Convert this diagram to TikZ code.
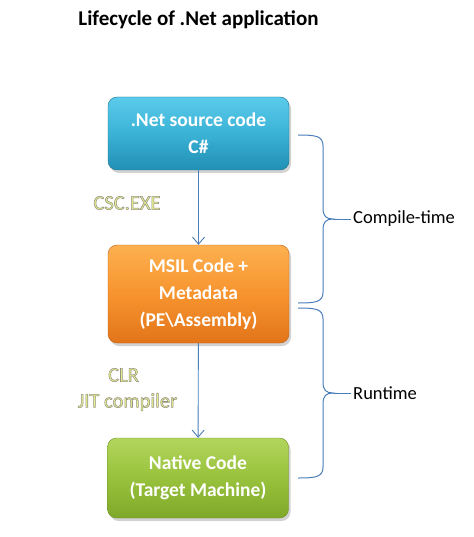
\documentclass[tikz,border=0pt]{standalone}
\usepackage{fontspec}
\setmainfont{Carlito}
\usetikzlibrary{shadows,arrows.meta}
\definecolor{blueA}{HTML}{5BCBEA}
\definecolor{blueB}{HTML}{3AB2D6}
\definecolor{blueC}{HTML}{2290B4}
\definecolor{orA}{HTML}{FDB050}
\definecolor{orB}{HTML}{F7942E}
\definecolor{orC}{HTML}{E2741A}
\definecolor{grA}{HTML}{B2D55C}
\definecolor{grB}{HTML}{98C23C}
\definecolor{grC}{HTML}{7FA82A}
\definecolor{lineblue}{HTML}{4A7EBB}
\definecolor{artfill}{HTML}{E6EC8C}
\newcommand\wordart[1]{\color{artfill}\special{pdf:code 2 Tr 0.55 w 0.58 0.58 0.52 RG}#1\special{pdf:code 0 Tr}}
\begin{document}
\begin{tikzpicture}[x=1pt,y=-1pt,
  box/.style={rounded corners=9pt, minimum width=181pt, text=white, align=center,
    font=\fontsize{19.5}{27}\selectfont\bfseries, inner sep=0pt,
    drop shadow={shadow xshift=2pt, shadow yshift=-3pt, opacity=0.35}},
  arr/.style={draw=lineblue, line width=0.9pt, -{Straight Barb[length=7pt,width=12pt]}},
  brace/.style={draw=lineblue, line width=1pt},
  side/.style={anchor=west, inner xsep=2.5pt, font=\fontsize{18.5}{22}\selectfont},
  art/.style={font=\fontsize{20.5}{27}\selectfont, align=center, inner sep=0pt}]
\useasboundingbox[fill=white] (0,0) rectangle (473,537);

\node[font=\fontsize{21}{25}\selectfont\bfseries] (title) at (198.5,20) {Lifecycle of .Net application};

\node[box, minimum height=73pt, top color=blueA, bottom color=blueC, middle color=blueB, draw=blueC!80!black] (b1) at (198.5,133.5) {.Net source code\\C\#};
\node[box, minimum height=98pt, top color=orA, bottom color=orC, middle color=orB, draw=orC!85!black] (b2) at (198.5,294) {MSIL Code +\\Metadata\\(PE\textbackslash Assembly)};
\node[box, minimum height=80pt, top color=grA, bottom color=grC, middle color=grB, draw=grC!85!black] (b3) at (198,478) {Native Code\\(Target Machine)};

\draw[arr] (b1) -- (b2);
\draw[arr] (b2) -- (b3);

\node[art] (csc) at (127,203) {\wordart{CSC.EXE}};
\node[art] (clr) at (123.5,375) {\wordart{CLR}};
\node[art] (jit) at (127.5,402) {\wordart{JIT compiler}};

\coordinate (t1) at (333,219);
\coordinate (t2) at (333,393);
\draw[brace] (298,135) .. controls (316,135) and (323,136) .. (323,146) -- (323,208)
  .. controls (323,216) and (326,219) .. (t1)
  .. controls (326,219) and (323,222) .. (323,230) -- (323,292)
  .. controls (323,302) and (316,303) .. (298,303);
\draw[brace] (298,308) .. controls (316,308) and (323,309) .. (323,319) -- (323,382)
  .. controls (323,390) and (326,393) .. (t2)
  .. controls (326,393) and (323,396) .. (323,404) -- (323,467)
  .. controls (323,477) and (316,478) .. (298,478);
\node[side] (ct) at (350.5,219) {Compile-time};
\node[side] (rt) at (350.5,393) {Runtime};
\draw[brace] (t1) -- (ct.west);
\draw[brace] (t2) -- (rt.west);
\end{tikzpicture}
\end{document}
